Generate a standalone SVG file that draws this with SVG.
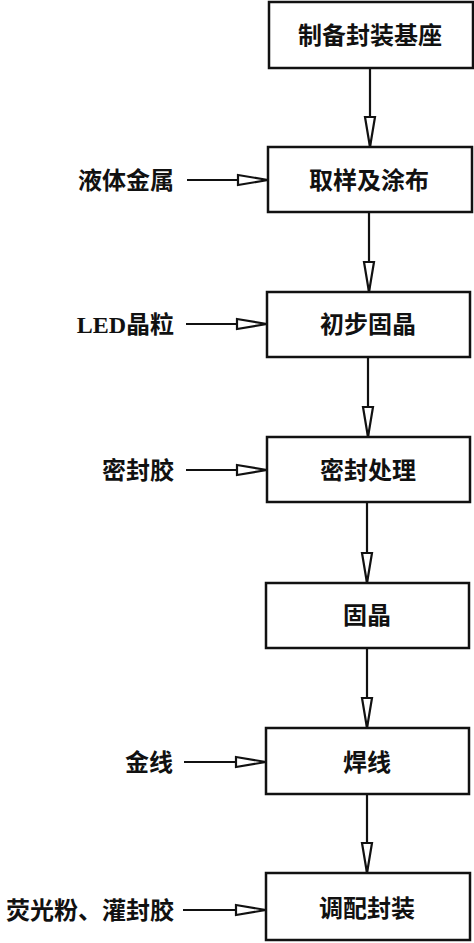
<svg xmlns="http://www.w3.org/2000/svg" width="474" height="943" viewBox="0 0 474 943">
<style>
.box{fill:#fff;stroke:#111;stroke-width:2.5}
.t{font-family:"Noto Sans CJK SC","Noto Sans CJK JP",sans-serif;font-size:24px;font-weight:700;fill:#111}
.c{text-anchor:middle}
.e{text-anchor:end}
.ln{stroke:#111;stroke-width:2.2;fill:none;marker-end:url(#ah)}
.ser{font-family:"Liberation Serif",serif;font-weight:700}
</style>
<defs>
<marker id="ah" markerUnits="userSpaceOnUse" markerWidth="34" markerHeight="14" refX="31" refY="6" orient="auto" overflow="visible">
<path d="M1,1 L31,6 L1,11 Z" fill="#fff" stroke="#111" stroke-width="2.2"/>
</marker>
</defs>
<rect width="474" height="943" fill="#fff"/>
<g id="connectors">
<line class="ln" x1="370" y1="68" x2="370" y2="147"/>
<line class="ln" x1="369" y1="212" x2="369" y2="292"/>
<line class="ln" x1="368" y1="357" x2="368" y2="437"/>
<line class="ln" x1="367" y1="502" x2="367" y2="583"/>
<line class="ln" x1="367" y1="648" x2="367" y2="728"/>
<line class="ln" x1="367" y1="794" x2="367" y2="873"/>
<line class="ln" x1="187" y1="180" x2="268" y2="180"/>
<line class="ln" x1="186" y1="324" x2="267" y2="324"/>
<line class="ln" x1="186" y1="470" x2="267" y2="470"/>
<line class="ln" x1="184" y1="762" x2="266" y2="762"/>
<line class="ln" x1="183" y1="910" x2="266" y2="910"/>
</g>
<g id="n1"><rect class="box" x="269" y="2" width="204" height="66"/><text class="t c" x="370" y="44">制备封装基座</text></g>
<g id="n2"><rect class="box" x="268" y="147" width="204" height="65"/><text class="t c" x="369" y="189">取样及涂布</text></g>
<g id="n3"><rect class="box" x="267" y="292" width="203" height="65"/><text class="t c" x="368" y="333">初步固晶</text></g>
<g id="n4"><rect class="box" x="267" y="437" width="203" height="65"/><text class="t c" x="368" y="479">密封处理</text></g>
<g id="n5"><rect class="box" x="266" y="583" width="203" height="65"/><text class="t c" x="367" y="624">固晶</text></g>
<g id="n6"><rect class="box" x="266" y="728" width="203" height="66"/><text class="t c" x="367" y="771">焊线</text></g>
<g id="n7"><rect class="box" x="266" y="873" width="204" height="67"/><text class="t c" x="367" y="917">调配封装</text></g>
<g id="i1"><text class="t e" x="174" y="189">液体金属</text></g>
<g id="i2"><text class="t e" x="174" y="333"><tspan class="ser">LED</tspan>晶粒</text></g>
<g id="i3"><text class="t e" x="174" y="479">密封胶</text></g>
<g id="i4"><text class="t e" x="173" y="771">金线</text></g>
<g id="i5"><text class="t e" x="174" y="919">荧光粉、灌封胶</text></g>
</svg>
